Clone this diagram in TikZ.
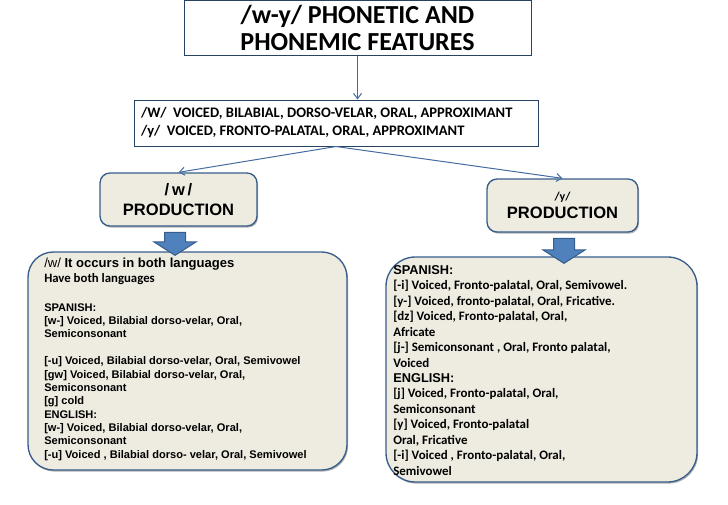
\documentclass[tikz,border=0pt]{standalone}
\usepackage{fontspec}
\setmainfont{Carlito}
\newfontfamily\arialfont{Liberation Sans}
\usetikzlibrary{calc,positioning,arrows.meta,shapes.arrows,shadows}
\definecolor{tanfill}{RGB}{238,236,225}
\definecolor{roundline}{RGB}{56,93,138}
\definecolor{boxline}{RGB}{40,66,98}
\definecolor{linkblue}{RGB}{68,108,160}
\definecolor{blockfill}{RGB}{79,129,189}
\tikzstyle{arrow}    = [draw=linkblue, line width=0.75pt, -{Straight Barb[length=4pt,width=6pt]}]
\tikzstyle{plainbox} = [draw=boxline, line width=0.75pt, fill=white, inner sep=0pt]
\tikzstyle{prodbox}  = [draw=roundline, line width=1pt, fill=tanfill, rounded corners=7.5pt,
                        drop shadow={shadow xshift=0.8pt, shadow yshift=-1.2pt, opacity=0.3, fill=black}]
\tikzstyle{bigbox}   = [prodbox, rounded corners=19pt]
\tikzstyle{downarrow} = [single arrow, draw=roundline, fill=blockfill, line width=0.75pt, rotate=-90,
                        inner xsep=0pt, inner ysep=7.5pt, single arrow head extend=7.9pt,
                        single arrow tip angle=115, single arrow head indent=0pt]
\tikzset{
	x=0.75pt, y=-0.75pt,
}

\begin{document}
\begin{tikzpicture}
        \useasboundingbox (0,0) rectangle (728,504);

        \node[plainbox, minimum width=260.25pt, minimum height=40.9pt, align=center,
              font=\bfseries\fontsize{19.5}{20.25}\selectfont] (title) at (357.5,27.75)
              {/w-y/ PHONETIC AND\\PHONEMIC FEATURES};
        \node[plainbox, minimum width=303pt, minimum height=34.5pt, text width=292.5pt, align=flush left,
              font=\bfseries\fontsize{10.9}{13.5}\selectfont] (features) at (336,123)
              {/W/\ \ VOICED, BILABIAL, DORSO-VELAR, ORAL, APPROXIMANT\\
               /y/\ \ VOICED, FRONTO-PALATAL, ORAL, APPROXIMANT};

        \node[prodbox, minimum width=117.75pt, minimum height=39.75pt, align=center,
              font=\arialfont\bfseries\fontsize{12.4}{15}\selectfont] (wprod) at (178.5,199.5)
              {/\,w\,/\\PRODUCTION};
        \node[prodbox, minimum width=113.25pt, minimum height=39.75pt, align=center,
              font=\arialfont\bfseries\fontsize{12.4}{13.5}\selectfont] (yprod) at (562.5,205.5)
              {{\rmfamily\fontsize{9}{13.5}\selectfont /y/}\\PRODUCTION};

        \node[bigbox, minimum width=239.25pt, minimum height=163.5pt] (wdetail) at (187.5,361) {};
        \node[bigbox, minimum width=233.25pt, minimum height=168.75pt, rounded corners=22pt] (ydetail) at (541.5,369.5) {};

        \node[anchor=north west, inner sep=0pt, align=left,
              font=\arialfont\bfseries\fontsize{8.3}{10}\selectfont] (wtext) at (44,258)
              {{\fontsize{9.8}{10}\selectfont\mdseries /w/ \bfseries It occurs in both languages}\\[1.25pt]
               {\rmfamily\fontsize{9.6}{10}\selectfont Have both languages}\\[11.4pt]
               SPANISH:\\\relax
               [w-] Voiced, Bilabial dorso-velar, Oral,\\
               Semiconsonant\\[10.25pt]\relax
               [-u] Voiced, Bilabial dorso-velar, Oral, Semivowel\\\relax
               [gw] Voiced, Bilabial dorso-velar, Oral,\\
               Semiconsonant\\\relax
               [g] cold\\
               ENGLISH:\\\relax
               [w-] Voiced, Bilabial dorso-velar, Oral,\\
               Semiconsonant\\\relax
               [-u] Voiced , Bilabial dorso- velar, Oral, Semivowel};
        \node[anchor=north west, inner sep=0pt, align=left,
              font=\bfseries\fontsize{9.7}{11.6}\selectfont] (ytext) at (393,265)
              {{\arialfont\fontsize{9.6}{11.6}\selectfont SPANISH:}\\\relax
               [-i] Voiced, Fronto-palatal, Oral, Semivowel.\\\relax
               [y-] Voiced, fronto-palatal, Oral, Fricative.\\\relax
               [dz] Voiced, Fronto-palatal, Oral,\\
               Africate\\\relax
               [j-] Semiconsonant , Oral, Fronto palatal,\\
               Voiced\\
               {\arialfont\fontsize{9.6}{11.6}\selectfont ENGLISH:}\\\relax
               [j] Voiced, Fronto-palatal, Oral,\\
               Semiconsonant\\\relax
               [y] Voiced, Fronto-palatal\\
               Oral, Fricative\\\relax
               [-i] Voiced , Fronto-palatal, Oral,\\
               Semivowel};

        \node[downarrow, minimum height=17.25pt, minimum width=30.75pt] (wdown) at (175,240.5) {};
        \node[downarrow, minimum height=18.75pt, minimum width=30pt] (ydown) at (564,247.5) {};

        \draw[arrow] (title.south) -- (title.south |- features.north);
        \draw[arrow] (features.south) -- (wprod.north);
        \draw[arrow] (features.south) -- (yprod.north);
    \end{tikzpicture}
\end{document}
